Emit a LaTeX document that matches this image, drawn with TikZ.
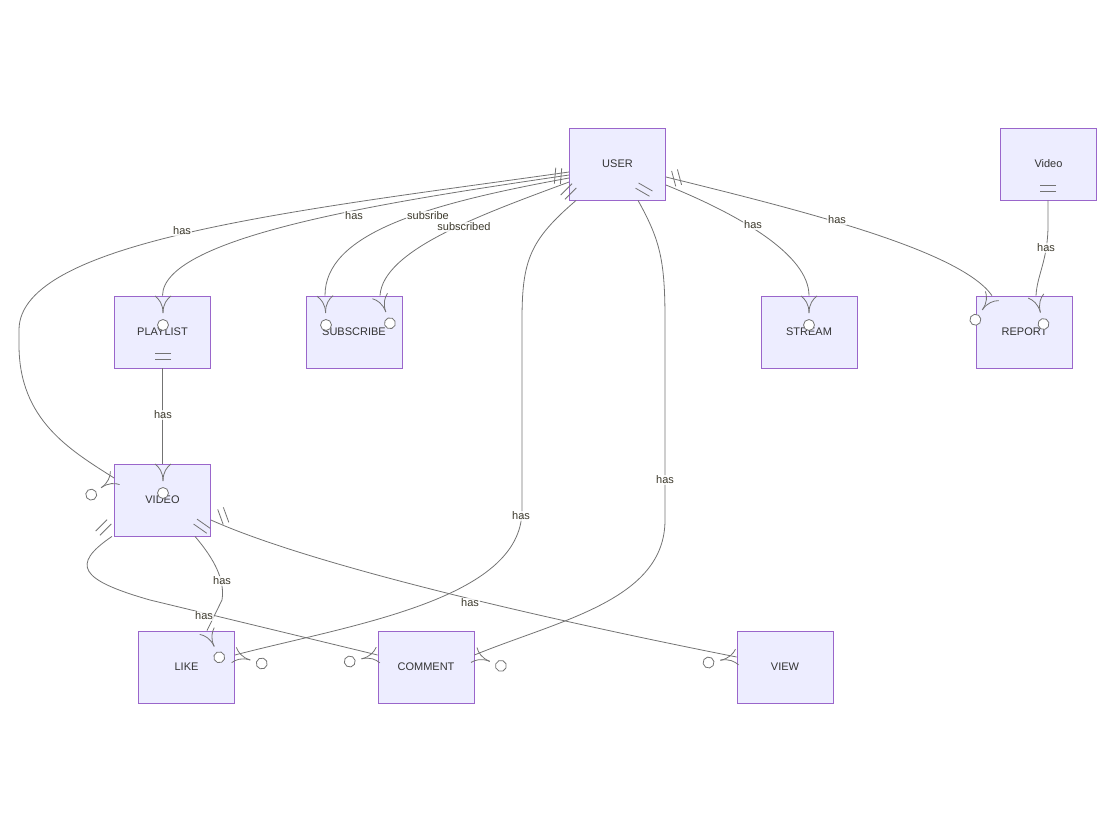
\documentclass[tikz,border=0pt]{standalone}
\usepackage{fontspec}
\setmainfont{Liberation Sans}
\begin{document}
\begin{tikzpicture}[x=1pt,y=-1pt,
 ent/.style={draw=purple!45!blue!60,fill=blue!7,line width=0.8pt,minimum width=96pt,minimum height=72pt,inner sep=0pt,font=\fontsize{11}{13}\selectfont,text=black!80},
 ln/.style={draw=black!55,line width=0.8pt},
 lab/.style={fill=white,fill opacity=0.8,text opacity=1,inner sep=1pt,font=\fontsize{11}{13}\selectfont,text=black!75!olive},
 zm/.pic={\draw[ln,fill=white] (-29,0) circle (5.5);
   \draw[ln] (-17,0) .. controls (-8,0) and (-3,-4) .. (0,-8);
   \draw[ln] (-17,0) .. controls (-8,0) and (-3,4) .. (0,8);},
 one/.pic={\draw[ln] (-9,-8) -- (-9,8); \draw[ln] (-15,-8) -- (-15,8);}]
\useasboundingbox (0,0) rectangle (1116,832);
\node[ent] (user) at (617.5,164) {USER};
\node[ent] (vid2) at (1048.5,164) {Video};
\node[ent] (pl) at (162.5,332) {PLAYLIST};
\node[ent] (sub) at (354,332) {SUBSCRIBE};
\node[ent] (str) at (809,332) {STREAM};
\node[ent] (rep) at (1024.5,332) {REPORT};
\node[ent] (vid) at (162.5,500) {VIDEO};
\node[ent] (like) at (186.5,667) {LIKE};
\node[ent] (com) at (426,667) {COMMENT};
\node[ent] (view) at (785,667) {VIEW};
% edges
\draw[ln] (user.west |- 0,175) .. controls (400,200) and (163,235) .. (pl.north);
\draw[ln] (user.west |- 0,178) .. controls (420,205) and (325,235) .. (sub.north -| 325,0);
\draw[ln] (user.west |- 0,182) .. controls (480,215) and (383,250) .. (sub.north -| 380,0);
\draw[ln] (user.west |- 0,172) .. controls (300,210) and (19,240) .. (19,330) -- (19,345) .. controls (19,420) and (70,450) .. (vid.west |- 0,478);
\draw[ln] (user.south west) ++(7,0) .. controls (530,240) and (522,260) .. (522,320) -- (522,510) .. controls (522,600) and (350,625) .. (like.east |- 0,655);
\draw[ln] (user.south -| 638,0) .. controls (660,240) and (665,260) .. (665,320) -- (665,520) .. controls (665,600) and (560,620) .. (com.east |- 0,655);
\draw[ln] (user.east |- 0,185) .. controls (740,215) and (809,255) .. (str.north);
\draw[ln] (user.east |- 0,177) .. controls (800,210) and (960,250) .. (rep.north -| 992,0);
\draw[ln] (vid2.south -| 1048,0) -- (1048,225) .. controls (1048,260) and (1037,275) .. (rep.north -| 1036,0);
\draw[ln] (pl.south) -- (vid.north);
\draw[ln] (vid.south -| 195,0) .. controls (215,560) and (225,580) .. (222,600) -- (like.north -| 207,0);
\draw[ln] (vid.south -| 112,0) .. controls (70,565) and (80,580) .. (150,600) -- (com.west |- 0,655);
\draw[ln] (vid.east |- 0,520) .. controls (300,560) and (500,610) .. (view.west |- 0,657);
% markers
\pic[rotate=90] at (163,296) {zm};
\pic[rotate=92] at (325,296) {zm};
\pic[rotate=110] at (380,296) {zm};
\pic[rotate=35] at (115,478) {zm};
\pic[rotate=163] at (234,655) {zm};
\pic[rotate=158] at (474,655) {zm};
\pic[rotate=90] at (809,296) {zm};
\pic[rotate=55] at (992,296) {zm};
\pic[rotate=105] at (1036,296) {zm};
\pic[rotate=90] at (163,464) {zm};
\pic[rotate=115] at (207,631) {zm};
\pic[rotate=13] at (378,655) {zm};
\pic[rotate=11] at (737,657) {zm};
\pic[rotate=-5] at (570,177) {one};
\pic[rotate=-45] at (577,200) {one};
\pic[rotate=-120] at (638,200) {one};
\pic[rotate=195] at (665,181) {one};
\pic[rotate=-90] at (1048,200) {one};
\pic[rotate=-90] at (163,368) {one};
\pic[rotate=-125] at (195,536) {one};
\pic[rotate=-45] at (112,536) {one};
\pic[rotate=200] at (212,520) {one};
% labels
\node[lab] (l1) at (354,216) {has};
\node[lab] (l2) at (428,216) {subsribe};
\node[lab] (l3) at (464,227) {subscribed};
\node[lab] (l4) at (182,231) {has};
\node[lab] (l5) at (521,516) {has};
\node[lab] (l6) at (665,480) {has};
\node[lab] (l7) at (753,225) {has};
\node[lab] (l8) at (837,220) {has};
\node[lab] (l9) at (1046,248) {has};
\node[lab] (l10) at (163,415) {has};
\node[lab] (l11) at (222,581) {has};
\node[lab] (l12) at (204,616) {has};
\node[lab] (l13) at (470,603) {has};
\end{tikzpicture}
\end{document}
